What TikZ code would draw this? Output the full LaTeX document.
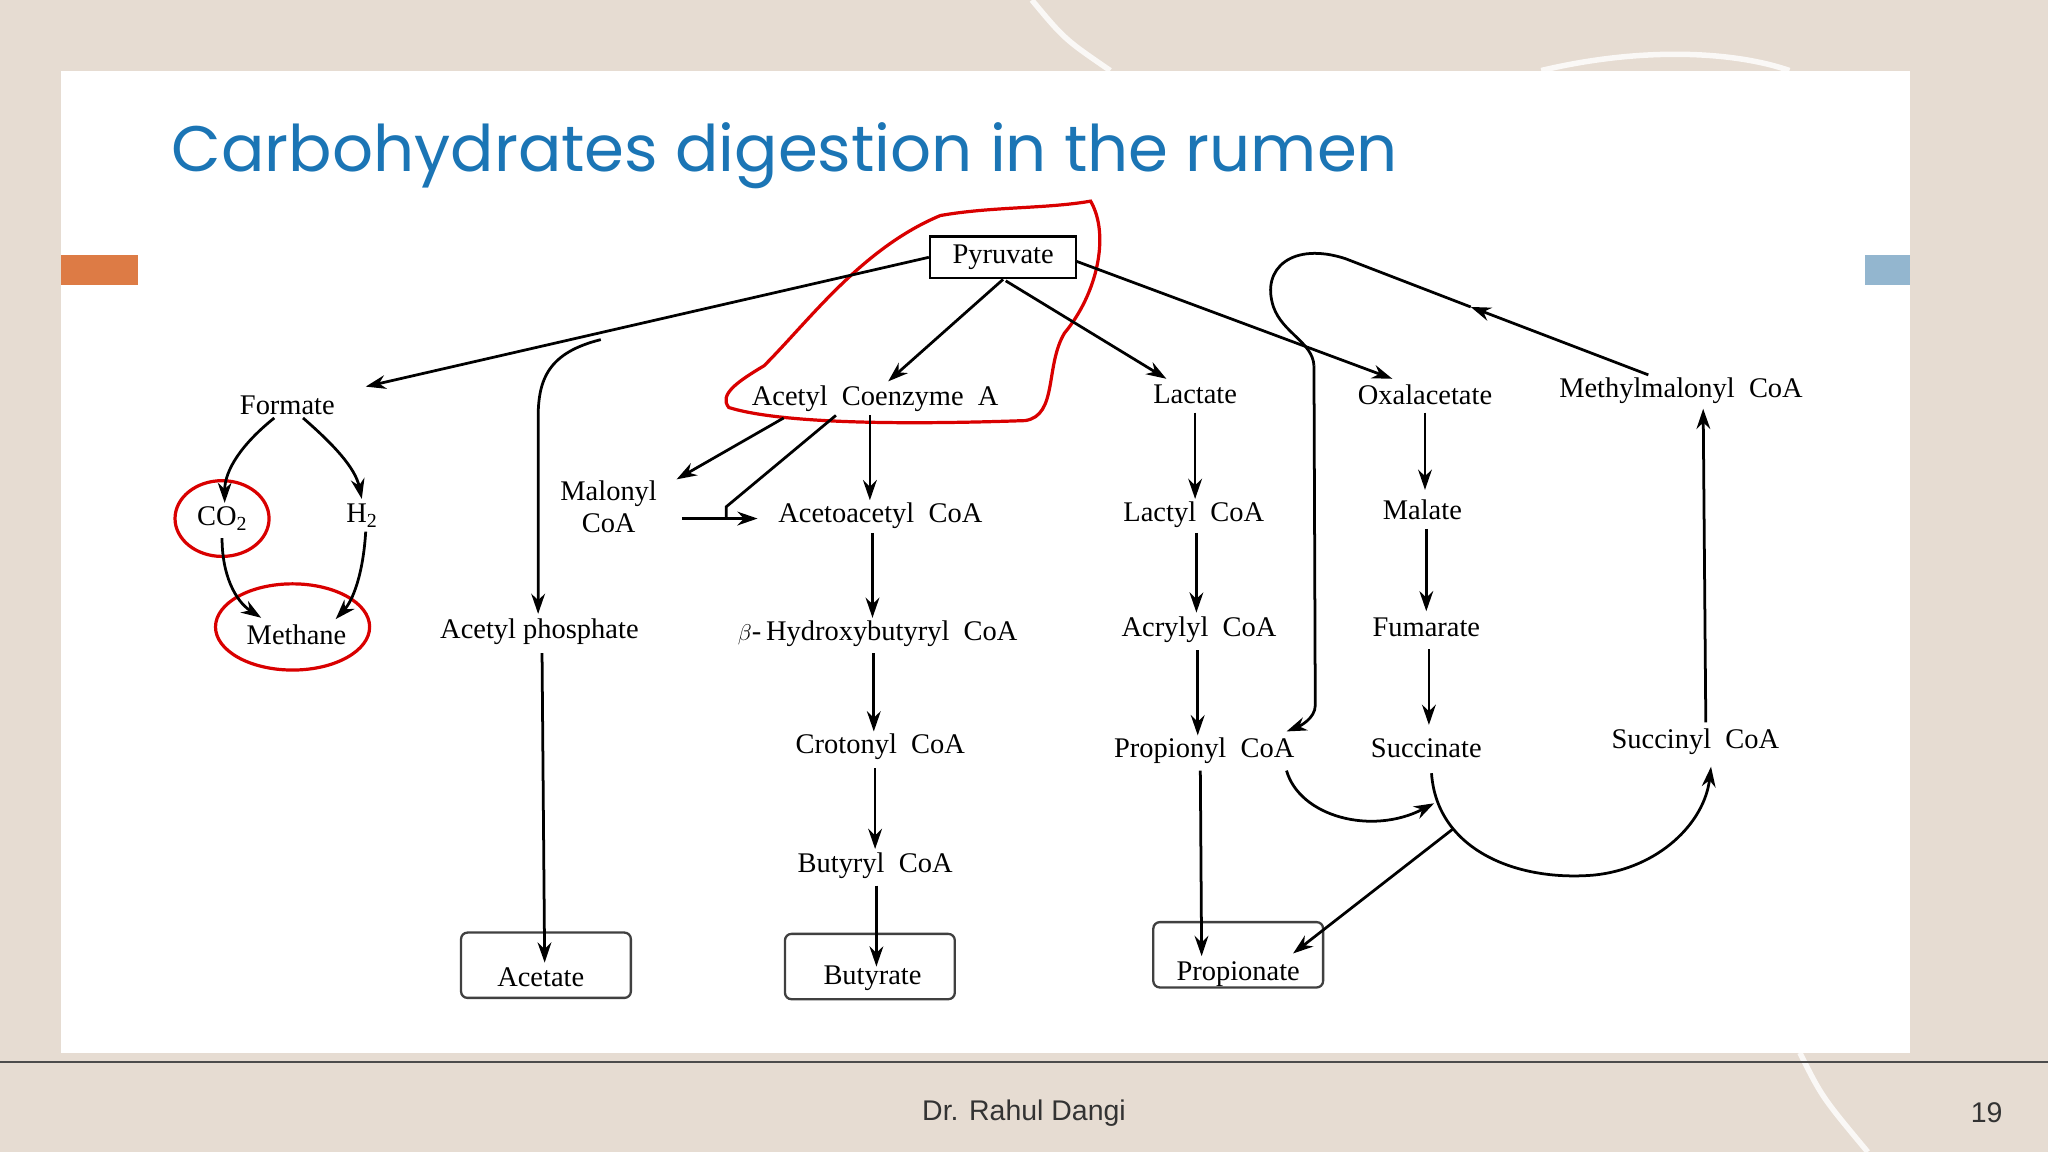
\documentclass[tikz,border=0pt]{standalone}
\usepackage{fontspec}
\setmainfont{Liberation Serif}
\newfontfamily\ttl{Poppins}
\newfontfamily\ftr{Liberation Sans}
\usetikzlibrary{arrows.meta}
\definecolor{bg}{HTML}{E6DCD2}
\definecolor{ttlc}{HTML}{1B75B5}
\definecolor{org}{HTML}{DD7B45}
\definecolor{blu}{HTML}{93B6CF}
\begin{document}
\begin{tikzpicture}[x=0.05cm,y=-0.05cm,
  lbl/.style={font=\fontsize{31}{34}\selectfont,inner sep=1pt},
  box/.style={draw=black!75,line width=2.5pt,minimum width=130*0.05cm,minimum height=50*0.05cm,rounded corners=7pt},
  ar/.style={-{Stealth[length=22pt,width=15pt]},line width=3pt},
  ln/.style={line width=3pt},
  red/.style={draw=red!85!black,line width=3.5pt}]
\fill[bg] (0,0) rectangle (1568,882);
\useasboundingbox (0,0) rectangle (1568,882);
\draw[white,line width=6pt,opacity=.8] (790,0) .. controls (815,30) .. (850,54);
\draw[white,line width=6pt,opacity=.8] (1180,54) .. controls (1260,35) and (1330,40) .. (1370,54);
\draw[white,line width=6pt,opacity=.8] (1378,806) .. controls (1395,840) .. (1430,882);
\fill[white] (47,54) rectangle (1462,806);
\fill[org] (47,195) rectangle (106,218);
\fill[blu] (1428,195) rectangle (1462,218);
\draw[black!70,line width=1.5pt] (0,813) -- (1568,813);
\node[font=\ftr\fontsize{31}{33}\selectfont,text=black!80] (ft) at (784,852) {Dr. Rahul Dangi};
\node[font=\ftr\fontsize{31}{33}\selectfont,text=black!80] (pg) at (1521,852) {19};
\node[font=\ttl\fontsize{70}{74}\selectfont,text=ttlc,anchor=west] (title) at (129,119) {Carbohydrates digestion in the rumen};
% nodes
\node[lbl,draw,line width=2.5pt,minimum width=112*0.05cm,minimum height=32*0.05cm] (pyr) at (768,197) {Pyruvate};
\node[lbl] (for) at (220,310) {Formate};
\node[lbl] (co2) at (170,397) {CO\textsubscript{2}};
\node[lbl] (h2) at (277,395) {H\textsubscript{2}};
\node[lbl] (met) at (227,486) {Methane};
\node[lbl] (acoa) at (670,305) {Acetyl\ \ Coenzyme\ \ A};
\node[lbl,align=center] (mal) at (466,388) {Malonyl\\CoA};
\node[lbl] (aac) at (674,395) {Acetoacetyl\ \ CoA};
\node[lbl] (bhb) at (672,485) {$\beta$-\,Hydroxybutyryl\ \ CoA};
\node[lbl] (cro) at (674,572) {Crotonyl\ \ CoA};
\node[lbl] (buc) at (670,663) {Butyryl\ \ CoA};
\node[box] (but) at (666,740) {};
\node[lbl] (butt) at (668,749) {Butyrate};
\node[lbl] (ap) at (413,484) {Acetyl phosphate};
\node[box] (ace) at (418,739) {};
\node[lbl] (acet) at (414,748) {Acetate};
\node[lbl] (lac) at (915,302) {Lactate};
\node[lbl] (lcoa) at (914,394) {Lactyl\ \ CoA};
\node[lbl] (acr) at (918,482) {Acrylyl\ \ CoA};
\node[lbl] (pcoa) at (922,575) {Propionyl\ \ CoA};
\node[box] (pro) at (948,731) {};
\node[lbl] (prot) at (948,746) {Propionate};
\node[lbl] (oxa) at (1091,302) {Oxalacetate};
\node[lbl] (mla) at (1089,390) {Malate};
\node[lbl] (fum) at (1092,480) {Fumarate};
\node[lbl] (suc) at (1092,573) {Succinate};
\node[lbl] (scoa) at (1298,568) {Succinyl\ \ CoA};
\node[lbl] (mm) at (1287,299) {Methylmalonyl\ \ CoA};
% red marks
\draw[red] (co2) ellipse [x radius=36, y radius=29];
\draw[red] (224,480) ellipse [x radius=59, y radius=33];
\draw[red] (585,280) .. controls (620,245) and (660,190) .. (720,165) .. controls (760,158) and (800,160) .. (835,154)
  .. controls (850,180) and (840,225) .. (815,255) .. controls (800,280) and (810,318) .. (785,322)
  .. controls (700,325) and (600,325) .. (558,312) .. controls (550,302) and (565,292) .. (585,280);
% arrows
\draw[ar] (pyr.west) -- (280,296);
\draw[ar] (pyr.south) -- (680,292);
\draw[ar] (770,215) -- (893,290);
\draw[ar] (824,200) -- (1066,290);
\draw[ar] (460,260) .. controls (420,270) and (412,290) .. (412,320) -- (412,470);
\draw[ar] (600,320) -- (518,367);
\draw[ar] (666,318) -- (666,383);
\draw[ln] (640,318) -- (556,388) -- (556,397);
\draw[ar] (522,397) -- (580,397);
\draw[ar] (668,408) -- (668,473);
\draw[ar] (669,500) -- (669,560);
\draw[ar] (670,588) -- (670,650);
\draw[ar] (671,678) -- (671,740);
\draw[ar] (415,500) -- (417,737);
\draw[ar] (210,320) .. controls (185,340) and (172,360) .. (172,385);
\draw[ar] (232,320) .. controls (255,340) and (272,358) .. (277,382);
\draw[ar] (170,412) .. controls (170,440) and (180,460) .. (200,473);
\draw[ar] (280,407) .. controls (278,440) and (270,460) .. (257,474);
\draw[ar] (915,316) -- (915,382);
\draw[ar] (916,408) -- (916,469);
\draw[ar] (917,498) -- (917,563);
\draw[ar] (919,590) -- (920,732);
\draw[ar] (1091,316) -- (1091,375);
\draw[ar] (1092,405) -- (1092,468);
\draw[ar] (1094,497) -- (1094,555);
\draw[ar] (1306,553) -- (1304,313);
\draw[ar] (1262,287) -- (1126,235);
\draw[ln] (1126,235) -- (1030,198) .. controls (990,185) and (965,205) .. (975,235) .. controls (982,255) and (1005,262) .. (1006,280);
\draw[ar] (1006,280) -- (1007,540) .. controls (1007,550) and (995,556) .. (985,560);
\draw[ar] (985,590) .. controls (995,625) and (1050,640) .. (1098,615);
\draw[ar] (1096,592) .. controls (1100,650) and (1160,675) .. (1220,670) .. controls (1270,665) and (1305,630) .. (1310,587);
\draw[ar] (1112,635) -- (990,730);
\end{tikzpicture}
\end{document}
